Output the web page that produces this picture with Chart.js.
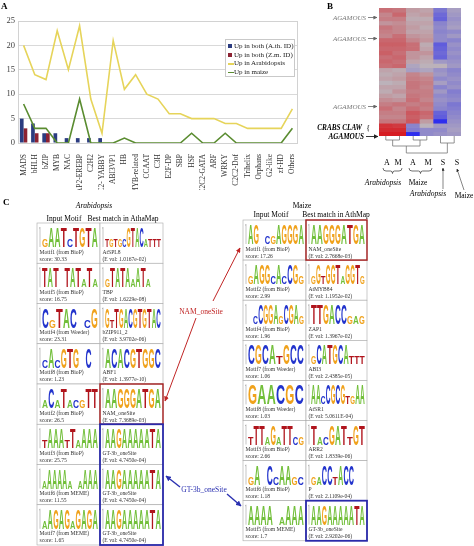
<!DOCTYPE html>
<html><head><meta charset="utf-8">
<script src="https://cdn.jsdelivr.net/npm/chart.js@4.4.1/dist/chart.umd.min.js"></script>
<style>
html,body{margin:0;padding:0;background:#fff;}
#wrap{position:relative;width:474px;height:546px;overflow:hidden;font-family:"Liberation Serif","Times New Roman",serif;}
#chartA{position:absolute;left:0;top:0;width:305px;height:190px;}
#heat{position:absolute;left:379px;top:8px;width:82px;height:128px;}
#ov{position:absolute;left:0;top:0;}
#legendA{position:absolute;left:225px;top:39px;width:70px;height:38px;border:1px solid #c9c9c9;background:#fff;font-size:7px;color:#222;box-sizing:border-box;padding-top:2px;}
#legendA .it{height:8.6px;line-height:8.6px;white-space:nowrap;position:relative;padding-left:8px;}
#legendA .mk{position:absolute;left:2px;}
</style></head>
<body><div id="wrap">
<div id="chartA"><canvas id="cA"></canvas></div>
<div id="heat"><canvas id="cH"></canvas></div>
<svg id="ov" width="474" height="546" xmlns="http://www.w3.org/2000/svg"></svg>
<div id="legendA"></div>
</div>
<script>
// ---------- Panel A data ----------
const categories = ["MADS","bHLH","bZIP","MYB","NAC","AP2-EREBP","C2H2","C2C2- YABBY","ABI3VP1","HB","MYB-related","CCAAT","C3H","E2F-DP","SBP","HSF","C2C2-GATA","ARF","WRKY","C2C2-Dof","Trihelix","Orphans","G2-like","zf-HD","Others"];
const upBothAth = [5,4,2,2,1,1,1,1,0,0,0,0,0,0,0,0,0,0,0,0,0,0,0,0,0];
const upBothZm  = [3,2,2,0,0,0,0,0,0,0,0,0,0,0,0,0,0,0,0,0,0,0,0,0,0];
const upArabidopsis = [20,14,13,23,15,24,9,2,21,11,14,10,9,6,6,5,5,5,4,4,3,3,3,3,7];
const upMaize = [8,3,3,0,0,9,0,0,0,1,0,0,0,0,0,2,0,0,2,0,0,0,0,0,3];
const seriesNames = ["Up in both (A.th. ID)","Up in both (Z.m. ID)","Up in Arabidopsis","Up in maize"];
const yTicks = [0,5,10,15,20,25];

// ---------- Panel B heatmap data (rows top to bottom) ----------
const heatLabels = ["A","M","A","M","S","S"];
const heatArabA  = [0.45,0.3,0.35,0.2,0.4,0.35,0.3,0.5,0.55,0.5,0.55,0.45,0.5,0.45,0.1,0.05,0.1,0.0,0.1,0.05,0.15,0.25,0.35,0.45,0.35,0.3,0.4,0.85,0.9,1.0];
const heatArabM  = [0.4,0.5,0.35,0.25,0.3,0.3,0.45,0.5,0.55,0.5,0.45,0.5,0.45,0.5,0.05,0.1,0.15,0.05,0.1,0.2,0.1,0.2,0.4,0.3,0.35,0.3,0.4,0.8,0.9,1.0];
const heatMaizeA = [0.15,0.1,0.05,0.1,0.15,0.1,0.2,0.3,0.45,0.45,0.2,0.2,0.1,-0.1,-0.15,0.3,0.35,0.4,0.4,0.35,0.4,0.45,0.35,0.45,0.6,0.55,0.6,-0.35,-0.4,-1.0];
const heatMaizeM = [0.1,0.15,0.05,0.1,0.05,0.1,0.15,0.2,0.05,0.1,0.2,0.1,0.05,0.0,-0.1,0.2,0.3,0.35,0.3,0.35,0.35,0.3,0.4,0.35,0.5,0.45,0.15,0.0,-0.3,-0.3];
const heatArabS  = [-0.45,-0.55,-0.6,-0.35,-0.3,-0.35,-0.3,-0.3,-0.65,-0.6,-0.55,-0.6,-0.2,0.0,-0.25,-0.2,-0.3,-0.15,-0.35,-0.2,-0.3,-0.25,-0.3,-0.35,-0.6,-0.65,-1.0,-0.2,-0.3,-0.25];
const heatMaizeS = [-0.15,-0.2,-0.25,-0.2,-0.15,-0.3,-0.2,-0.35,-0.25,-0.3,-0.25,-0.3,-0.25,-0.2,-0.35,-0.3,-0.25,-0.3,-0.25,-0.4,-0.35,-0.3,-0.45,-0.4,-0.35,-0.3,-0.25,-0.2,-0.15,-0.2];

// ---------- Panel C table data ----------
const arabInput = [["Motif1 (from BioP)","score: 30.33"],["Motif5 (from BioP)","score: 16.75"],["Motif4 (from Weeder)","score: 23.31"],["Motif8 (from BioP)","score: 1.23"],["Motif2 (from BioP)","score: 26.5"],["Motif3 (from BioP)","score: 25.75"],["Motif6 (from MEME)","score: 11.55"],["Motif7 (from MEME)","score: 1.65"]];
const arabMatch = [["AtSPL8","(E val: 1.0167e-02)"],["TBP","(E val: 1.6229e-08)"],["bZIP911_2","(E val: 3.9702e-06)"],["ABF1","(E val: 1.3977e-10)"],["NAM_oneSite","(E val: 7.3689e-03)"],["GT-3b_oneSite","(E val: 4.7450e-04)"],["GT-3b_oneSite","(E val: 4.7450e-04)"],["GT-3b_oneSite","(E val: 4.7450e-04)"]];
const arabInputLogo = ["gAATcTGTA","TAT.TATaTa","CgTAC.cG","cAcGTG.C.","aCaTacgTT","tAAAtTaAAA","aAAAAa.aAAA","aAGAGaGAGA"];
const arabMatchLogo = ["tgtgcGTACattt","gTATAaATa..","GtTGACGTGTAC","ACACGTGGC","AAGGGATGA","AAGAAAAATA","AAGAAAAATA","AAGAAAAATA"];
const maizeInput = [["Motif1 (from BioP)","score: 17.26"],["Motif2 (from BioP)","score: 2.99"],["Motif4 (from BioP)","score: 1.96"],["Motif7 (from Weeder)","score: 1.06"],["Motif8 (from Weeder)","score: 1.03"],["Motif3 (from BioP)","score: 2.66"],["Motif6 (from BioP)","score: 1.18"],["Motif5 (from MEME)","score: 1.7"]];
const maizeMatch = [["NAM_oneSite","(E val: 2.7668e-03)"],["AtMYB84","(E val: 1.1952e-02)"],["ZAP1","(E val: 1.3967e-02)"],["ABI3","(E val: 2.4385e-05)"],["AtSR1","(E val: 5.0611E-04)"],["ARR2","(E val: 1.8339e-06)"],["P","(E val: 2.1109e-04)"],["GT-3b_oneSite","(E val: 2.9202e-06)"]];
const maizeInputLogo = ["AG.cgAGGGA","gAGGcAcCGg",".cCGGAgCGAg","CGCAtGCC","GAACGC","tTTaGaTTcg","gA.CcAAgc","AAAA.aAAA"];
const maizeMatchLogo = ["AAGGGATGA","gGtGGTaGGTg","TTGACCgag","gCATGCAttt","AAcCGCGtgAA","TacGATtGT","gaCCtACC..","AAGAAAAATA"];

// ---------- Panel A chart ----------
const colBlue = "#2b3c80", colRed = "#8c2232", colYellow = "#e6d45a", colGreen = "#5a8c30";
const frame = {id:"frame", afterDraw(c){const a=c.chartArea,x=c.ctx;x.save();x.strokeStyle="#d2d2d2";x.lineWidth=1;x.strokeRect(a.left+0.5,a.top+0.5,a.right-a.left-1,a.bottom-a.top);x.restore();}};
const chartA = new Chart(document.getElementById("cA"), {
  type:"bar",
  data:{labels:categories, datasets:[
    {label:seriesNames[0], data:upBothAth, backgroundColor:colBlue, order:2, barPercentage:1, categoryPercentage:0.66},
    {label:seriesNames[1], data:upBothZm, backgroundColor:colRed, order:2, barPercentage:1, categoryPercentage:0.66},
    {type:"line", label:seriesNames[2], data:upArabidopsis, borderColor:colYellow, backgroundColor:colYellow, borderWidth:1.6, pointRadius:0, tension:0, order:1},
    {type:"line", label:seriesNames[3], data:upMaize, borderColor:colGreen, backgroundColor:colGreen, borderWidth:1.6, pointRadius:0, tension:0, order:0}
  ]},
  options:{
    responsive:true, maintainAspectRatio:false, animation:false,
    layout:{padding:{top:21,right:7,left:0,bottom:0}},
    plugins:{legend:{display:false}, tooltip:{enabled:false}},
    scales:{
      x:{grid:{display:false}, border:{display:false},
         ticks:{autoSkip:false, minRotation:90, maxRotation:90, padding:3, color:"#333", font:{family:"Liberation Serif", size:7.5}},
         afterFit(s){s.height=47;}},
      y:{min:0, max:25, border:{display:false},
         grid:{color:"#d9d9d9", drawTicks:false},
         afterBuildTicks(s){s.ticks=yTicks.map(v=>({value:v}));},
         ticks:{padding:3, color:"#404040", font:{family:"Liberation Serif", size:8.5}},
         afterFit(s){s.width=18;}}
    }
  },
  plugins:[frame]
});

// HTML legend built from chart datasets
const lg = document.getElementById("legendA");
chartA.data.datasets.forEach(ds=>{
  const d=document.createElement("div"); d.className="it";
  const m=document.createElement("span"); m.className="mk";
  if(ds.type==="line"){m.style.cssText+="top:4px;width:6px;height:1.5px;background:"+ds.borderColor;}
  else {m.style.cssText+="top:2.3px;width:4px;height:4px;background:"+ds.backgroundColor;}
  d.appendChild(m); d.appendChild(document.createTextNode(ds.label)); lg.appendChild(d);
});

// ---------- Panel B heatmap ----------
function heatColor(v){
  const g=[188,178,186], r=[214,28,34], b=[46,46,238];
  const t=Math.min(1,Math.abs(v)), e=v>=0?r:b;
  return "rgb("+g.map((c,i)=>Math.round(c+(e[i]-c)*t)).join(",")+")";
}
const heatCols=[heatArabA,heatArabM,heatMaizeA,heatMaizeM,heatArabS,heatMaizeS];
const heatSets=heatArabA.map((_,r)=>({data:heatLabels.map(()=>1), backgroundColor:heatCols.map(c=>heatColor(c[r])), borderWidth:0, barPercentage:1, categoryPercentage:1}));
new Chart(document.getElementById("cH"),{
  type:"bar", data:{labels:heatLabels, datasets:heatSets},
  options:{responsive:true, maintainAspectRatio:false, animation:false,
    layout:{padding:0}, plugins:{legend:{display:false},tooltip:{enabled:false}},
    scales:{x:{display:false, stacked:true}, y:{display:false, stacked:true, reverse:true, min:0, max:heatArabA.length}}}
});

// ---------- overlay SVG (labels, panel B annotations, panel C) ----------
const SERIF='font-family="Liberation Serif, Times New Roman, serif"';
const letterCol={A:"#72bf3a",C:"#2233cc",G:"#f0a21c",T:"#b0141c"};
let s=`<defs>
<marker id="mr" viewBox="0 0 10 10" refX="9" refY="5" markerWidth="5" markerHeight="5" orient="auto"><path d="M0,0L10,5L0,10z" fill="#c02525"/></marker>
<marker id="mb" viewBox="0 0 10 10" refX="9" refY="5" markerWidth="4" markerHeight="4" orient="auto"><path d="M0,0L10,5L0,10z" fill="#2a30b0"/></marker>
<marker id="mk" viewBox="0 0 10 10" refX="9" refY="5" markerWidth="5" markerHeight="5" orient="auto"><path d="M0,0L10,5L0,10z" fill="#222"/></marker>
<marker id="mg" viewBox="0 0 10 10" refX="9" refY="5" markerWidth="5" markerHeight="5" orient="auto"><path d="M0,0L10,5L0,10z" fill="#666"/></marker>
</defs>`;
s+=`<text x="1" y="9" ${SERIF} font-size="9" font-weight="bold">A</text>`;
s+=`<text x="327" y="9" ${SERIF} font-size="9" font-weight="bold">B</text>`;
s+=`<text x="3" y="205" ${SERIF} font-size="9" font-weight="bold">C</text>`;

// Panel B annotations
[20,41,109].forEach(y=>{
  s+=`<text x="366" y="${y}" ${SERIF} font-size="7" font-style="italic" fill="#777" text-anchor="end">AGAMOUS</text>`;
  s+=`<line x1="368" y1="${y-2.5}" x2="377" y2="${y-2.5}" stroke="#666" stroke-width="0.8" marker-end="url(#mg)"/>`;
});
s+=`<text x="362" y="130" ${SERIF} font-size="7.2" font-style="italic" font-weight="bold" text-anchor="end">CRABS CLAW</text>`;
s+=`<text x="366" y="131" ${SERIF} font-size="9" fill="#222">{</text>`;
s+=`<text x="364" y="139" ${SERIF} font-size="7.2" font-style="italic" font-weight="bold" text-anchor="end">AGAMOUS</text>`;
s+=`<line x1="366" y1="136.5" x2="378" y2="136.5" stroke="#222" stroke-width="0.9" marker-end="url(#mk)"/>`;
const cx=[385.8,399.5,413.2,426.8,440.5,454.2];
const dg=`fill="none" stroke="#777" stroke-width="0.8"`;
s+=`<path d="M${cx[0]},136V140H${cx[1]}V136" ${dg}/><path d="M${cx[2]},136V140H${cx[3]}V136" ${dg}/><path d="M${cx[4]},136V143H${cx[5]}V136" ${dg}/>`;
s+=`<path d="M${(cx[0]+cx[1])/2},140V146H${(cx[2]+cx[3])/2}V140" ${dg}/><path d="M${(cx[0]+cx[1]+cx[2]+cx[3])/4},146V153H${(cx[4]+cx[5])/2}V143" ${dg}/>`;
const lx=[387,398,413,428,443,457];
heatLabels.forEach((t,i)=>{s+=`<text x="${lx[i]}" y="165" ${SERIF} font-size="8" text-anchor="middle">${t}</text>`;});
function brace(x1,x2,y){const m=(x1+x2)/2;return `<path d="M${x1},${y} q0,3 3,3 H${m-2} q2,0 2,2.5 q0,-2.5 2,-2.5 H${x2-3} q3,0 3,-3" fill="none" stroke="#333" stroke-width="0.7"/>`;}
s+=brace(383,402,168)+brace(409,432,168);
s+=`<text x="383" y="185" ${SERIF} font-size="7.5" font-style="italic" text-anchor="middle">Arabidopsis</text>`;
s+=`<text x="418" y="185" ${SERIF} font-size="7.5" text-anchor="middle">Maize</text>`;
s+=`<text x="428" y="196" ${SERIF} font-size="7.5" font-style="italic" text-anchor="middle">Arabidopsis</text>`;
s+=`<text x="464" y="198" ${SERIF} font-size="7.5" text-anchor="middle">Maize</text>`;
s+=`<line x1="443" y1="189" x2="443" y2="168" stroke="#333" stroke-width="0.6" marker-end="url(#mk)"/>`;
s+=`<line x1="464" y1="190" x2="457" y2="169" stroke="#333" stroke-width="0.6" marker-end="url(#mk)"/>`;

// Panel C
function logo(str,x,base,w){
  const n=str.length, lw=w/n; let o="";
  for(let i=0;i<n;i++){const ch=str[i]; if(ch===".") continue;
    const big=ch===ch.toUpperCase(), L=ch.toUpperCase(), fs=big?27:10;
    o+=`<text x="${(x+i*lw).toFixed(2)}" y="${base}" font-family="Liberation Sans, Arial, sans-serif" font-weight="bold" font-size="${fs}" textLength="${(lw*0.97).toFixed(2)}" lengthAdjust="spacingAndGlyphs" fill="${letterCol[L]}">${L}</text>`;}
  return o;
}
function cell(x,y,w,logoStr,lines){
  let o=`<line x1="${x+3}" y1="${y+4}" x2="${x+3}" y2="${y+24}" stroke="#888" stroke-width="0.5"/><line x1="${x+2}" y1="${y+5}" x2="${x+3}" y2="${y+5}" stroke="#888" stroke-width="0.5"/>`;
  o+=logo(logoStr,x+5,y+24,w-7);
  o+=`<text x="${x+2.5}" y="${y+30.5}" ${SERIF} font-size="5.6" fill="#333">${lines[0]}</text>`;
  o+=`<text x="${x+2.5}" y="${y+37.5}" ${SERIF} font-size="5.6" fill="#333">${lines[1]}</text>`;
  return o;
}
function table(x0,xs,x1,top,rh,inp,mat,inLogo,maLogo){
  let o="";
  for(let r=0;r<inp.length;r++){
    const y=top+r*rh;
    o+=`<rect x="${x0}" y="${y}" width="${xs-x0}" height="${rh}" fill="#fff" stroke="#a8a8a8" stroke-width="0.6"/>`;
    o+=`<rect x="${xs}" y="${y}" width="${x1-xs}" height="${rh}" fill="#fff" stroke="#a8a8a8" stroke-width="0.6"/>`;
    o+=cell(x0,y,xs-x0,inLogo[r],inp[r]);
    o+=cell(xs,y,x1-xs,maLogo[r],mat[r]);
  }
  return o;
}
const LT=223, LH=40.25, RT=220, RH=40.1;
s+=`<text x="94" y="208" ${SERIF} font-size="7.5" font-style="italic" text-anchor="middle">Arabidopsis</text>`;
s+=`<text x="64" y="221" ${SERIF} font-size="7.5" text-anchor="middle">Input Motif</text>`;
s+=`<text x="123" y="221" ${SERIF} font-size="7.5" text-anchor="middle">Best match in AthaMap</text>`;
s+=table(37,100,163,LT,LH,arabInput,arabMatch,arabInputLogo,arabMatchLogo);
s+=`<rect x="100" y="${LT+4*LH}" width="63" height="${LH}" fill="none" stroke="#a82222" stroke-width="1.4"/>`;
s+=`<rect x="100" y="${LT+5*LH}" width="63" height="${3*LH}" fill="none" stroke="#2a2aaa" stroke-width="1.8"/>`;
s+=`<text x="302" y="208" ${SERIF} font-size="7.5" text-anchor="middle">Maize</text>`;
s+=`<text x="271" y="217" ${SERIF} font-size="7.5" text-anchor="middle">Input Motif</text>`;
s+=`<text x="336" y="217" ${SERIF} font-size="7.5" text-anchor="middle">Best match in AthMap</text>`;
s+=table(243,306,367,RT,RH,maizeInput,maizeMatch,maizeInputLogo,maizeMatchLogo);
s+=`<rect x="306" y="${RT}" width="61" height="${RH}" fill="none" stroke="#a82222" stroke-width="1.4"/>`;
s+=`<rect x="306" y="${RT+7*RH}" width="61" height="${RH}" fill="none" stroke="#2a2aaa" stroke-width="1.8"/>`;
// arrows and match labels
s+=`<line x1="213" y1="301" x2="240" y2="248" stroke="#c02525" stroke-width="1" marker-end="url(#mr)"/>`;
s+=`<line x1="196" y1="318" x2="165" y2="401" stroke="#c02525" stroke-width="1" marker-end="url(#mr)"/>`;
s+=`<text x="201" y="314" ${SERIF} font-size="7.5" fill="#c02525" text-anchor="middle">NAM_oneSite</text>`;
s+=`<line x1="180" y1="487" x2="166" y2="476" stroke="#2a30b0" stroke-width="1.4" marker-end="url(#mb)"/>`;
s+=`<line x1="227" y1="494" x2="241" y2="506" stroke="#2a30b0" stroke-width="1.4" marker-end="url(#mb)"/>`;
s+=`<text x="204" y="492" ${SERIF} font-size="7.5" fill="#2a30b0" text-anchor="middle">GT-3b_oneSite</text>`;
document.getElementById("ov").innerHTML=s;
</script>
</body></html>
